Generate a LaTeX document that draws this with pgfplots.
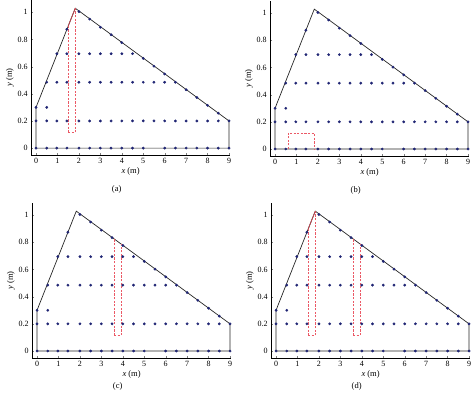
\documentclass[border=0pt]{standalone}
\usepackage{pgfplots}
\pgfplotsset{compat=1.18}
\usepackage{fontspec}
\setmainfont{Liberation Serif}
\definecolor{dotc}{rgb}{0.12,0.14,0.45}
\definecolor{redd}{rgb}{0.92,0.35,0.40}
\pgfplotsset{panel/.style={
  scale only axis, width=199pt, height=154.8pt,
  xmin=-0.23, xmax=9.05, ymin=-0.05, ymax=1.09,
  axis x line=bottom, axis y line=left, axis line style={-, black},
  xtick={0,1,...,9}, ytick={0,0.2,0.4,0.6,0.8,1},
  yticklabels={0,0.2,0.4,0.6,0.8,1},
  tick align=inside, major tick length=2pt,
  tick label style={font=\fontsize{8}{9}\selectfont},
  label style={font=\fontsize{8.5}{10}\selectfont},
  /pgf/number format/assume math mode=true,
  xlabel={\textit{x} (m)}, ylabel={\textit{y} (m)},
  xlabel style={yshift=3pt}, ylabel style={yshift=-3pt},
  clip=false,
}}
\pgfplotstableread{
x y
0 0
0 0.3
1.83 1.03
9 0.2
9 0
0 0
}\outline
\pgfplotstableread{
x y
0 0
0.5 0
0.97 0
1.44 0
2 0
2.5 0
3 0
3.5 0
4 0
4.5 0
5 0
6 0
6.5 0
7 0
7.5 0
8 0
8.5 0
9 0
0 0.2
0.5 0.2
0.97 0.2
1.44 0.2
2 0.2
2.5 0.2
3 0.2
3.5 0.2
4 0.2
4.5 0.2
5 0.2
5.5 0.2
6 0.2
6.5 0.2
7 0.2
7.5 0.2
8 0.2
8.5 0.2
9 0.2
0 0.3
0.5 0.3
0.5 0.485
0.97 0.485
1.44 0.485
2 0.485
2.5 0.485
3 0.485
3.5 0.485
4 0.485
4.5 0.485
5 0.485
5.5 0.485
6 0.485
6.5 0.485
0.97 0.695
1.44 0.695
2 0.695
2.5 0.695
3 0.695
3.5 0.695
4 0.695
4.5 0.695
1.44 0.875
2 1.005
2.5 0.95
3 0.89
3.5 0.835
4 0.777
5 0.66
5.5 0.603
6 0.546
7 0.43
7.5 0.373
8 0.315
8.5 0.257
}\dots
\pgfplotstableread{
x y
1.50 0.115
1.50 0.899
}\stripAl
\pgfplotstableread{
x y
1.83 0.115
1.83 1.03
}\stripAr
\pgfplotstableread{
x y
1.50 0.115
1.83 0.115
}\stripAb
\pgfplotstableread{
x y
1.50 0.899
1.83 1.03
}\stripAt
\pgfplotstableread{
x y
0.61 0
0.61 0.118
1.82 0.118
1.82 0
}\boxB
\pgfplotstableread{
x y
3.59 0.117
3.59 0.824
}\stripCl
\pgfplotstableread{
x y
3.91 0.117
3.91 0.787
}\stripCr
\pgfplotstableread{
x y
3.59 0.117
3.91 0.117
}\stripCb
\tikzset{rdash/.style={redd, line width=0.6pt, dash pattern=on 2.2pt off 1.4pt}}
\newcommand{\base}{%
  \addplot[black!85, line width=0.7pt, mark=none] table {\outline};
  \addplot[only marks, mark=*, mark size=1.2pt, dotc] table {\dots};
}
\newcommand{\stripA}{%
  \addplot[rdash] table {\stripAl};
  \addplot[rdash] table {\stripAr};
  \addplot[rdash] table {\stripAb};
  \addplot[redd!80!black, line width=0.8pt] table {\stripAt};
}
\newcommand{\stripC}{%
  \addplot[rdash] table {\stripCl};
  \addplot[rdash] table {\stripCr};
  \addplot[rdash] table {\stripCb};
}
\newcommand{\sublab}[2]{\node[font=\fontsize{8.5}{10}\selectfont] at (rel axis cs:0.43,0) [yshift=#2] {#1};}
\begin{document}
\begin{tikzpicture}[x=1pt,y=1pt]
\useasboundingbox (0,0) rectangle (474,395);
\begin{axis}[panel, at={(31.1pt,240.1pt)}, anchor=south west]
\base
\stripA
\sublab{(a)}{-35pt}
\end{axis}
\begin{axis}[panel, at={(270.1pt,239.2pt)}, anchor=south west]
\base
\addplot[rdash] table {\boxB};
\sublab{(b)}{-35pt}
\end{axis}
\begin{axis}[panel, at={(32.1pt,37.2pt)}, anchor=south west]
\base
\stripC
\sublab{(c)}{-29pt}
\end{axis}
\begin{axis}[panel, at={(271.1pt,37.2pt)}, anchor=south west]
\base
\stripA
\stripC
\sublab{(d)}{-29pt}
\end{axis}
\end{tikzpicture}
\end{document}
